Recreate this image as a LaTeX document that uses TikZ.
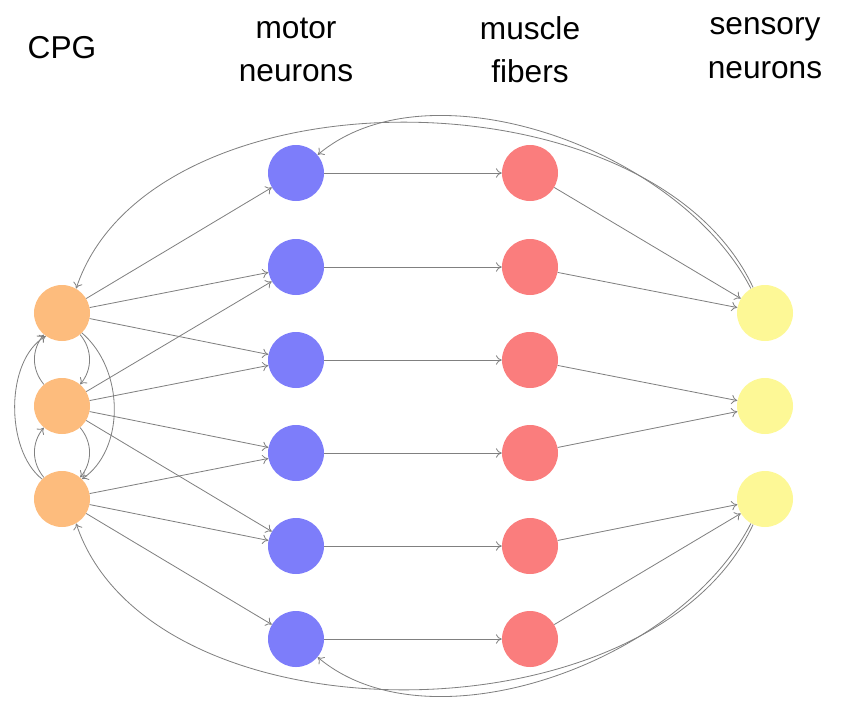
\documentclass[tikz,border=0pt]{standalone}
\usepackage{fontspec}
\setmainfont{Liberation Sans}
\usetikzlibrary{arrows.meta}
\begin{document}
\begin{tikzpicture}[x=0.03cm,y=-0.03cm,
  n/.style={circle,minimum size=1.68cm,inner sep=0,draw=none},
  e/.style={draw=gray,line width=0.7pt,-{To[length=5pt,width=8pt]}},
  lab/.style={font=\fontsize{27}{37}\selectfont,align=center}]
\useasboundingbox (0,0) rectangle (846,725);
\definecolor{cpg}{RGB}{253,188,125}
\definecolor{mot}{RGB}{125,125,250}
\definecolor{mus}{RGB}{250,125,125}
\definecolor{sen}{RGB}{253,248,150}
\node[lab] (t1) at (62,48) {CPG};
\node[lab] (t2) at (296,50) {motor\\neurons};
\node[lab] (t3) at (530,50) {muscle\\fibers};
\node[lab] (t4) at (765,48) {sensory\\neurons};
\foreach \i/\y in {1/313,2/406,3/499}{
  \node[n,fill=cpg] (c\i) at (62,\y) {};
  \node[n,fill=sen] (s\i) at (765,\y) {};}
\foreach \i/\y in {1/173,2/267,3/360,4/453,5/546,6/639}{
  \node[n,fill=mot] (m\i) at (296,\y) {};
  \node[n,fill=mus] (f\i) at (530,\y) {};
  \draw[e] (m\i) -- (f\i);}
\foreach \a/\b in {1/1,1/2,1/3,2/2,2/3,2/4,2/5,3/4,3/5,3/6}
  \draw[e] (c\a) -- (m\b);
\foreach \a/\b in {1/1,2/1,3/2,4/2,5/3,6/3}
  \draw[e] (f\a) -- (s\b);
\draw[e] (c1.-50) to[bend left=40] (c2.50);
\draw[e] (c2.130) to[bend left=40] (c1.-130);
\draw[e] (c2.-50) to[bend left=40] (c3.50);
\draw[e] (c3.130) to[bend left=40] (c2.-130);
\draw[e] (c1.-45) .. controls (125,370) and (125,450) .. (c3.45);
\draw[e] (c3.135) .. controls (5,450) and (5,360) .. (c1.-125);
\draw[e] (s1.115) .. controls (650,67) and (150,67) .. (c1.60);
\draw[e] (s1.120) .. controls (680,150) and (430,60) .. (m1.40);
\draw[e] (s3.-115) .. controls (650,745) and (150,745) .. (c3.-60);
\draw[e] (s3.-120) .. controls (680,662) and (430,752) .. (m6.-40);
\end{tikzpicture}
\end{document}
